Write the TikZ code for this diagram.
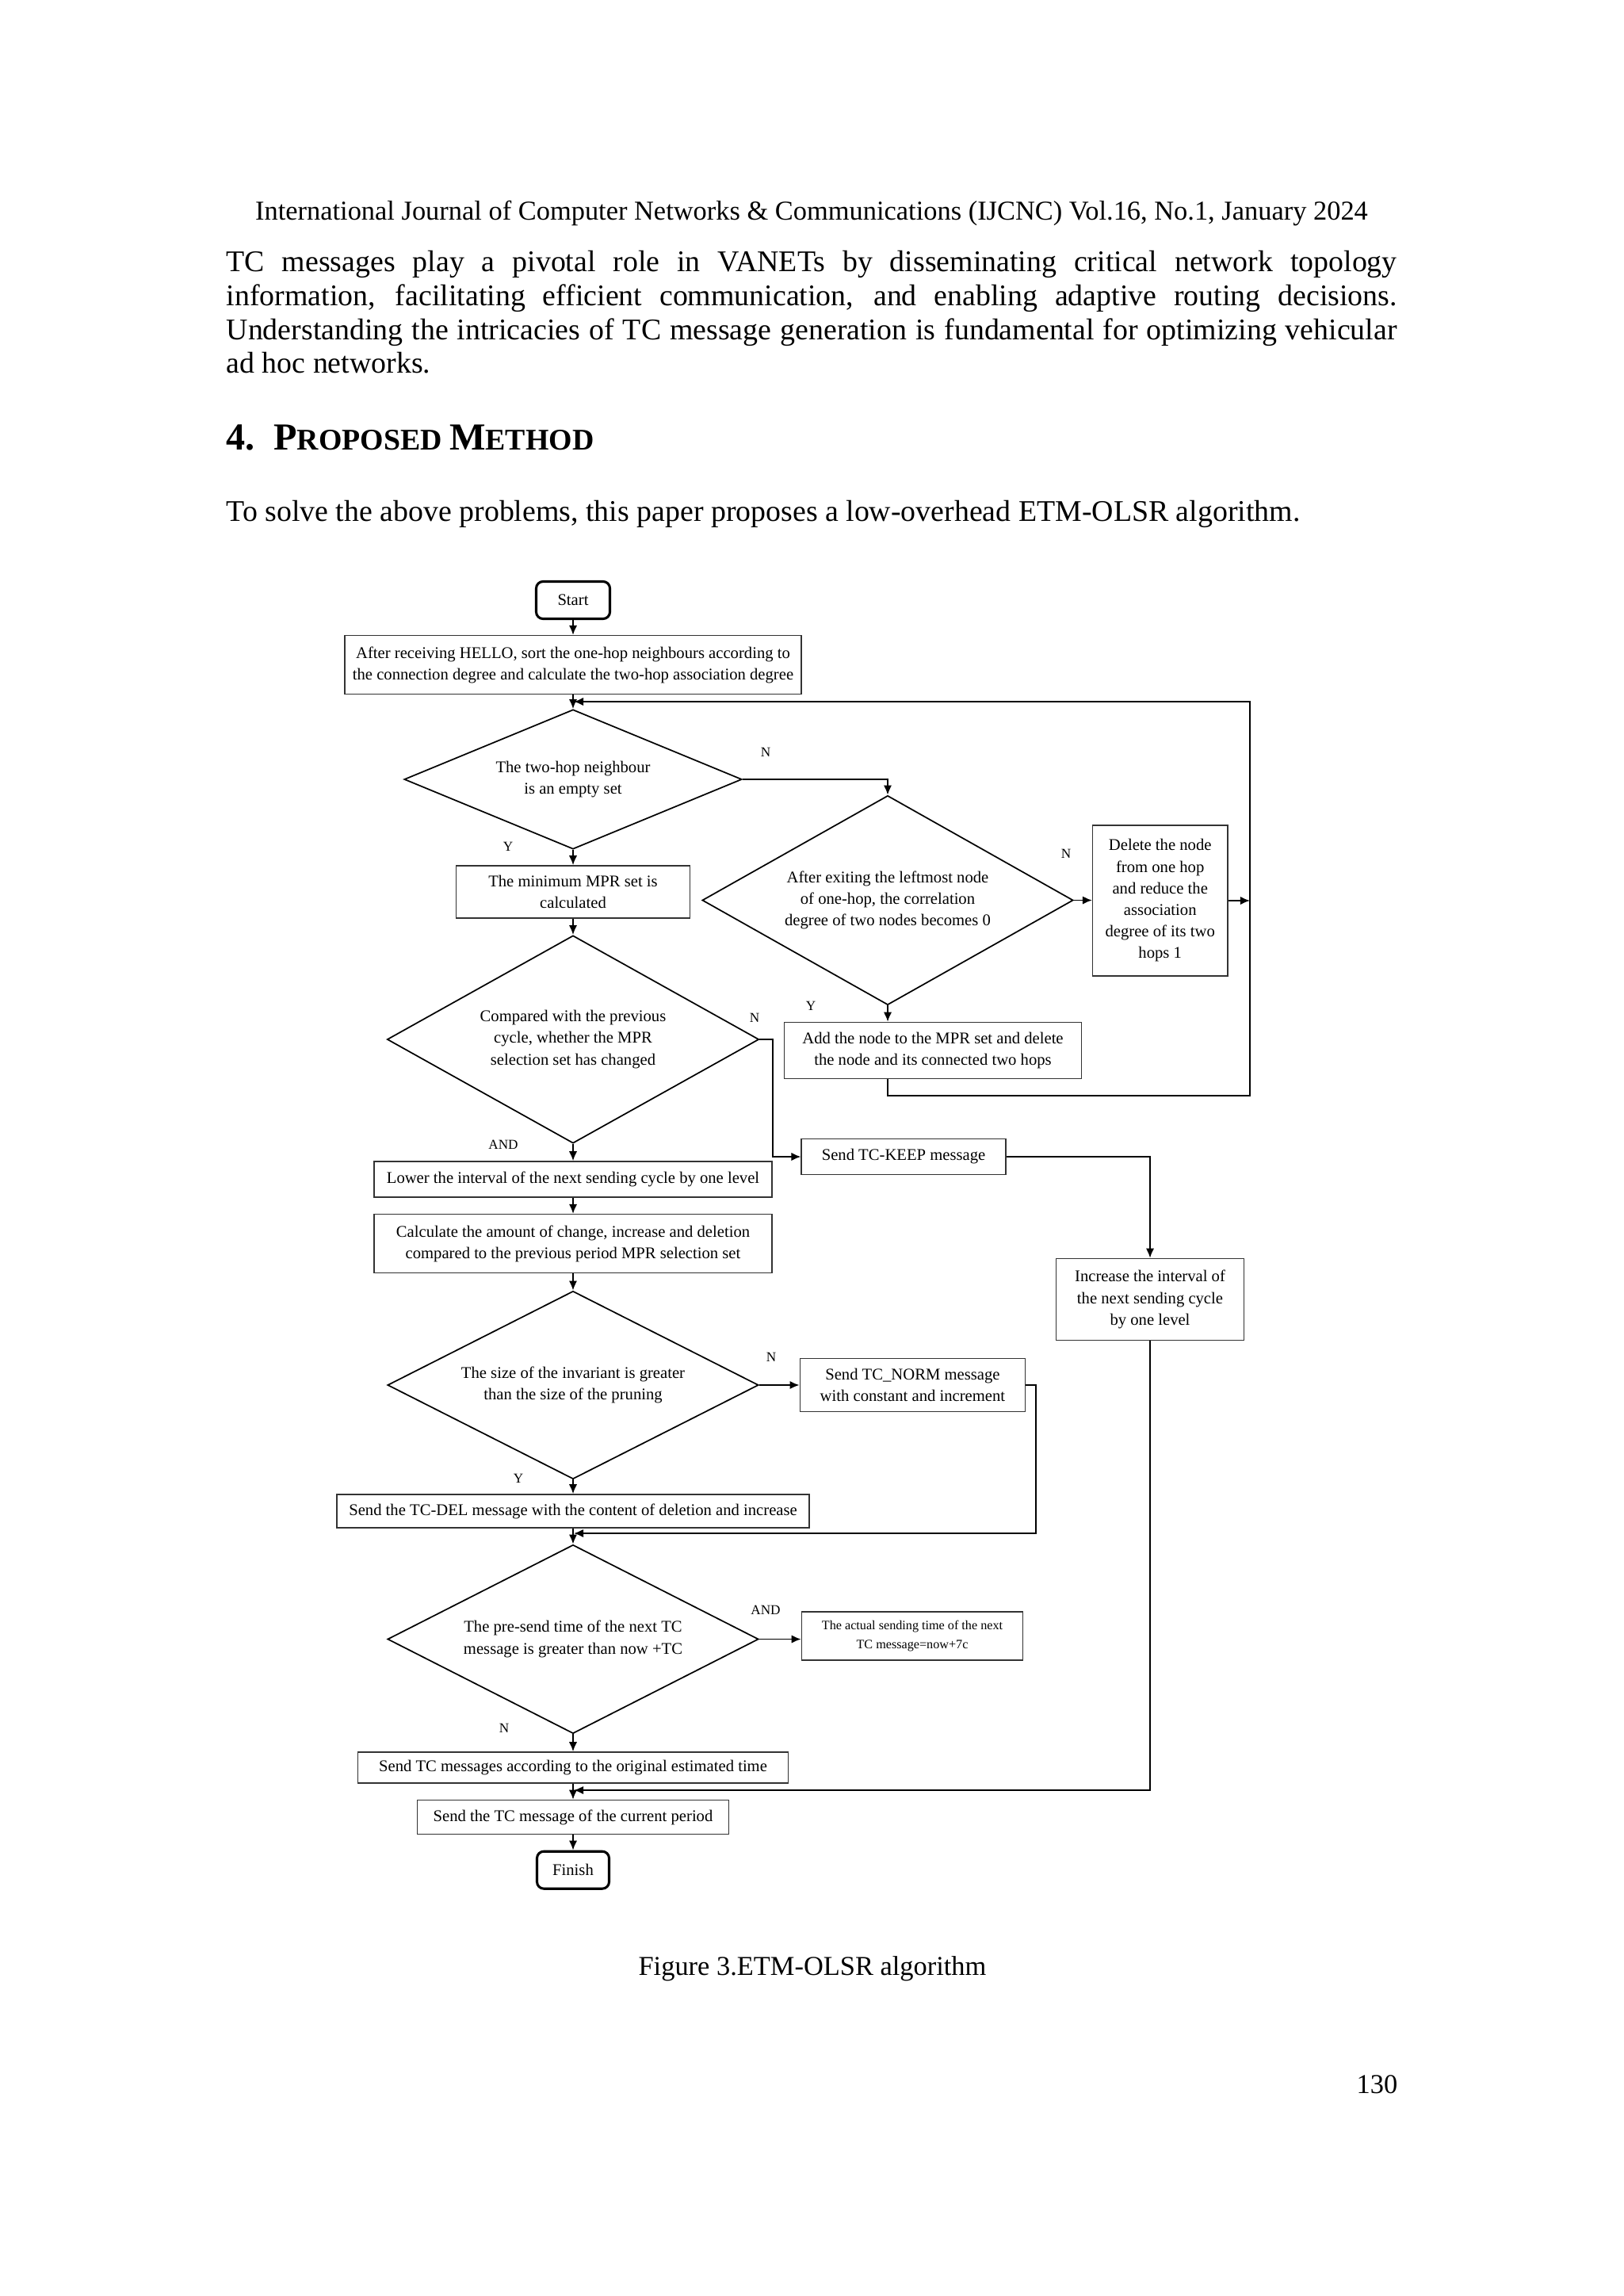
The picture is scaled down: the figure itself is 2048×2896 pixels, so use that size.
\documentclass[tikz,border=0pt]{standalone}
\usepackage{fontspec}
\setmainfont{Liberation Serif}
\usetikzlibrary{shapes.geometric,arrows.meta}
\newcommand\PX{0.29053pt}
\newcommand\fsix{\fontsize{6}{7.9}\selectfont}
\newcommand\ffive{\fontsize{5}{6}\selectfont}
\newcommand\fsmall{\fontsize{4.7}{6.8}\selectfont}
\newcommand\fbody{\fontsize{11}{12.65}\selectfont}
\newcommand\ften{\fontsize{10}{12}\selectfont}
\tikzset{
  bsize/.style 2 args={minimum width={#1*\PX}, minimum height={#2*\PX}},
  box/.style={draw=black!80, line width=0.45pt, rectangle, inner sep=0pt, align=center, font=\fsix},
  dia/.style={draw=black, line width=0.5pt, diamond, inner sep=0pt, align=center, font=\fsix},
  term/.style={draw=black, line width=0.9pt, rectangle, rounded corners=2.5pt, inner sep=0pt, align=center, font=\fsix},
  conn/.style={line width=0.55pt, -{Latex[length=3.5pt,width=3pt]}},
  lbl/.style={font=\ffive, inner sep=0pt},
  ptext/.style={inner sep=0pt}
}
\begin{document}
\begin{tikzpicture}[x=\PX,y=-\PX]
\useasboundingbox[fill=white] (0,0) rectangle (2048,2896);

% ---------- page text ----------
\node[ptext, anchor=base, font=\ften] (hdr) at (1024,278) {International Journal of Computer Networks \& Communications (IJCNC) Vol.16, No.1, January 2024};
\node[ptext, anchor=base west, font=\fbody] (p1) at (285,343) {\makebox[429.1pt][s]{TC messages play a pivotal role in VANETs by disseminating critical network topology}};
\node[ptext, anchor=base west, font=\fbody] (p2) at (285,385.6) {\makebox[429.1pt][s]{information, facilitating efficient communication, and enabling adaptive routing decisions.}};
\node[ptext, anchor=base west, font=\fbody] (p3) at (285,428.2) {\makebox[429.1pt][s]{Understanding the intricacies of TC message generation is fundamental for optimizing vehicular}};
\node[ptext, anchor=base west, font=\fbody] (p4) at (285,470.8) {ad hoc networks.};
\node[ptext, anchor=base west] (hnum) at (285,568) {\fontsize{14}{16}\selectfont\bfseries 4.};
\node[ptext, anchor=base west] (htitle) at (344.6,568) {\bfseries\fontsize{14}{16}\selectfont P\fontsize{11}{13}\selectfont ROPOSED \fontsize{14}{16}\selectfont M\fontsize{11}{13}\selectfont ETHOD};
\node[ptext, anchor=base west, font=\fbody] (intro) at (285,658) {To solve the above problems, this paper proposes a low-overhead ETM-OLSR algorithm.};
\node[ptext, anchor=base, font=\ften] (cap) at (1025,2491) {Figure 3.ETM-OLSR algorithm};
\node[ptext, anchor=base east, font=\ften] (pg) at (1764,2640) {130};

% ---------- flowchart nodes ----------
\node[term, bsize={93}{47}] (start) at (723,757) {Start};
\node[box, bsize={576}{74}] (hello) at (723,838.7) {After receiving HELLO, sort the one-hop neighbours according to\\the connection degree and calculate the two-hop association degree};
\node[dia, bsize={426}{176}, aspect=2.42] (d1) at (723,983) {The two-hop neighbour\\is an empty set};
\node[box, bsize={295}{66}] (minmpr) at (723,1125) {The minimum MPR set is\\calculated};
\node[dia, bsize={468}{264}, aspect=1.77] (d2) at (1120,1135.5) {After exiting the leftmost node\\of one-hop, the correlation\\degree of two nodes becomes 0};
\node[box, bsize={170}{190}] (del) at (1463.7,1136) {Delete the node\\from one hop\\and reduce the\\association\\degree of its two\\hops 1};
\node[box, bsize={375}{71}] (add) at (1177,1325) {Add the node to the MPR set and delete\\the node and its connected two hops};
\node[dia, bsize={469}{262}, aspect=1.79] (d3) at (723,1311) {Compared with the previous\\cycle, whether the MPR\\selection set has changed};
\node[box, bsize={257.5}{45}] (keep) at (1140,1459) {Send TC-KEEP message};
\node[box, bsize={502}{45}] (lower) at (723,1487.5) {Lower the interval of the next sending cycle by one level};
\node[box, bsize={502}{74}] (calc) at (723,1568.7) {Calculate the amount of change, increase and deletion\\compared to the previous period MPR selection set};
\node[box, bsize={237}{103}] (inc) at (1451,1639) {Increase the interval of\\the next sending cycle\\by one level};
\node[dia, bsize={468}{237}, aspect=1.97] (d4) at (723,1747) {The size of the invariant is greater\\than the size of the pruning};
\node[box, bsize={284}{67}] (norm) at (1151.4,1747) {Send TC\_NORM message\\with constant and increment};
\node[box, bsize={596.5}{42}] (tcdel) at (723,1906) {Send the TC-DEL message with the content of deletion and increase};
\node[dia, bsize={468}{238}, aspect=1.97] (d5) at (723,2067.5) {The pre-send time of the next TC\\message is greater than now +TC};
\node[box, bsize={279}{61}, font=\fsmall] (actual) at (1151,2063.5) {The actual sending time of the next\\TC message=now+7c};
\node[box, bsize={543}{39}] (sendtc) at (723,2229.5) {Send TC messages according to the original estimated time};
\node[box, bsize={393}{43}] (cur) at (723,2292) {Send the TC message of the current period};
\node[term, bsize={91}{47}] (finish) at (723,2358.7) {Finish};

% ---------- labels ----------
\node[lbl] (ln1) at (966,949) {N};
\node[lbl] (ly1) at (641,1068) {Y};
\node[lbl] (ln2) at (1345,1077) {N};
\node[lbl] (ly2) at (1023,1269) {Y};
\node[lbl] (ln3) at (952,1284) {N};
\node[lbl] (la3) at (635,1444) {AND};
\node[lbl] (ln4) at (973,1712) {N};
\node[lbl] (ly4) at (654,1865) {Y};
\node[lbl] (la5) at (966,2031) {AND};
\node[lbl] (ln5) at (636,2180) {N};

% ---------- helper coordinates ----------
\coordinate (rtop) at (1577,885);
\coordinate (rbot) at (1577,1382);
\coordinate (loopin) at (724,885);
\coordinate (normin) at (724,1934);
\coordinate (incin) at (724,2258);

% ---------- connectors ----------
\draw[conn] (start.south) -- (hello.north);
\draw[conn] (hello.south) -- (d1.north);
\draw[conn] (d1.east) -| (d2.north);
\draw[conn] (d1.south) -- (minmpr.north);
\draw[conn] (minmpr.south) -- (d3.north);
\draw[conn] (d2.east) -- (d2.east -| del.west);
\draw[conn] (del.east) -- (del.east -| rtop);
\draw[conn] (d2.south) -- (d2.south |- add.north);
\draw[conn] (d2.south |- add.south) |- (rbot) -- (rtop) -- (loopin);
\draw[conn] (d3.east) -- ++(17,0) |- (keep.west);
\draw[conn] (d3.south) -- (lower.north);
\draw[conn] (lower.south) -- (calc.north);
\draw[conn] (calc.south) -- (d4.north);
\draw[conn] (keep.east) -| (inc.north);
\draw[conn] (d4.east) -- (d4.east -| norm.west);
\draw[conn] (d4.south) -- (tcdel.north);
\draw[conn] (norm.east) -- ++(13,0) |- (normin);
\draw[conn] (tcdel.south) -- (d5.north);
\draw[conn] (d5.east) -- (d5.east -| actual.west);
\draw[conn] (d5.south) -- (sendtc.north);
\draw[conn] (inc.south) |- (incin);
\draw[conn] (sendtc.south) -- (cur.north);
\draw[conn] (cur.south) -- (finish.north);
\end{tikzpicture}
\end{document}
